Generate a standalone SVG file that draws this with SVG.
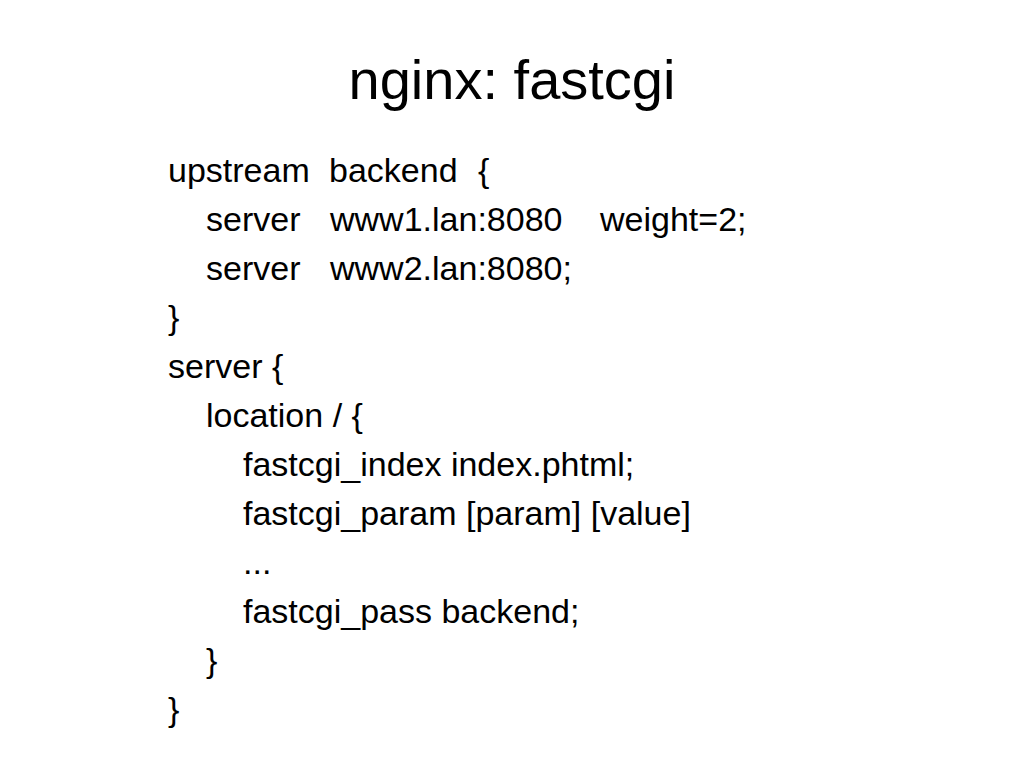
<svg xmlns="http://www.w3.org/2000/svg" width="1024" height="768" viewBox="0 0 1024 768">
<style>
.t{font-family:"Liberation Sans",Arial,sans-serif;fill:#000;}
.title{font-size:56px;text-anchor:middle;}
.b{font-size:34px;}
</style>
<rect width="1024" height="768" fill="#fff"/>
<text class="t title" x="512" y="99">nginx: fastcgi</text>
<g id="code" class="t b">
<text x="168" y="182"><tspan x="168">upstream</tspan><tspan x="329">backend</tspan><tspan x="478">{</tspan></text>
<text x="206" y="231"><tspan x="206">server</tspan><tspan x="330">www1.lan:8080</tspan><tspan x="600">weight=2;</tspan></text>
<text x="206" y="280"><tspan x="206">server</tspan><tspan x="330">www2.lan:8080;</tspan></text>
<text x="168" y="329">}</text>
<text x="168" y="378">server {</text>
<text x="206" y="427">location / {</text>
<text x="243" y="476">fastcgi_index index.phtml;</text>
<text x="243" y="525">fastcgi_param [param] [value]</text>
<text x="243" y="574">...</text>
<text x="243" y="623">fastcgi_pass backend;</text>
<text x="206" y="672">}</text>
<text x="168" y="721">}</text>
</g>
</svg>
